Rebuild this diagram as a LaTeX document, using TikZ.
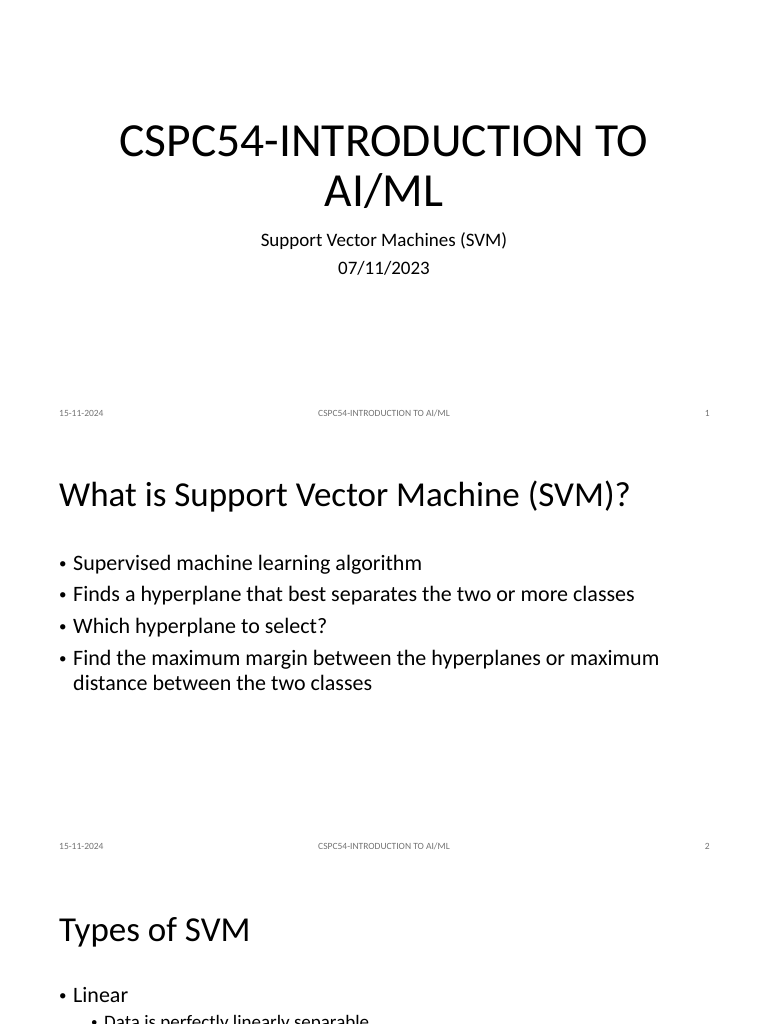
\documentclass[tikz,border=0pt]{standalone}
\usepackage{fontspec}
\setmainfont{Carlito}
\begin{document}
\begin{tikzpicture}[x=1pt,y=-1pt,
  foot/.style={anchor=base,font=\fontsize{9.5}{10}\selectfont,text=black!55,inner sep=0},
  bul/.style={anchor=base west,font=\fontsize{22}{24}\selectfont,inner sep=0},
  bdot/.style={anchor=base west,font=\fontsize{15}{24}\selectfont,inner sep=0},
  head/.style={anchor=base west,font=\fontsize{35}{40}\selectfont,inner sep=0}]
\useasboundingbox (0,0) rectangle (768,1024);
\fill[white] (0,0) rectangle (768,1024);
% slide 1
\node[anchor=base,font=\fontsize{47.5}{50}\selectfont,inner sep=0] (t1) at (384,157) {CSPC54-INTRODUCTION TO};
\node[anchor=base,font=\fontsize{47.5}{50}\selectfont,inner sep=0] (t2) at (384,207) {AI/ML};
\node[anchor=base,font=\fontsize{19}{20}\selectfont,inner sep=0] (s1) at (384,246) {Support Vector Machines (SVM)};
\node[anchor=base,font=\fontsize{19}{20}\selectfont,inner sep=0] (s2) at (384,274) {07/11/2023};
\node[foot,anchor=base west] (f1a) at (59,416) {15-11-2024};
\node[foot] (f1b) at (384,416) {CSPC54-INTRODUCTION TO AI/ML};
\node[foot,anchor=base east] (f1c) at (710,416) {1};
% slide 2
\node[head] (h2) at (59,506) {What is Support Vector Machine (SVM)?};
\foreach \y/\t [count=\i] in {570/Supervised machine learning algorithm,
  601/Finds a hyperplane that best separates the two or more classes,
  633/Which hyperplane to select?,
  665/Find the maximum margin between the hyperplanes or maximum}{
  \node[bdot] (d\i) at (59,\y-2) {\textbullet};
  \node[bul] (b\i) at (73,\y) {\t};
}
\node[bul] (b5) at (73,690) {distance between the two classes};
\node[foot,anchor=base west] (f2a) at (59,849) {15-11-2024};
\node[foot] (f2b) at (384,849) {CSPC54-INTRODUCTION TO AI/ML};
\node[foot,anchor=base east] (f2c) at (710,849) {2};
% slide 3
\node[head] (h3) at (59,941) {Types of SVM};
\node[bdot] (d6) at (59,1000) {\textbullet};
\node[bul] (b6) at (73,1002) {Linear};
\node[anchor=base west,font=\fontsize{13}{20}\selectfont,inner sep=0] (d7) at (91,1026) {\textbullet};
\node[anchor=base west,font=\fontsize{19}{20}\selectfont,inner sep=0] (b7) at (104,1028) {Data is perfectly linearly separable};
\end{tikzpicture}
\end{document}
